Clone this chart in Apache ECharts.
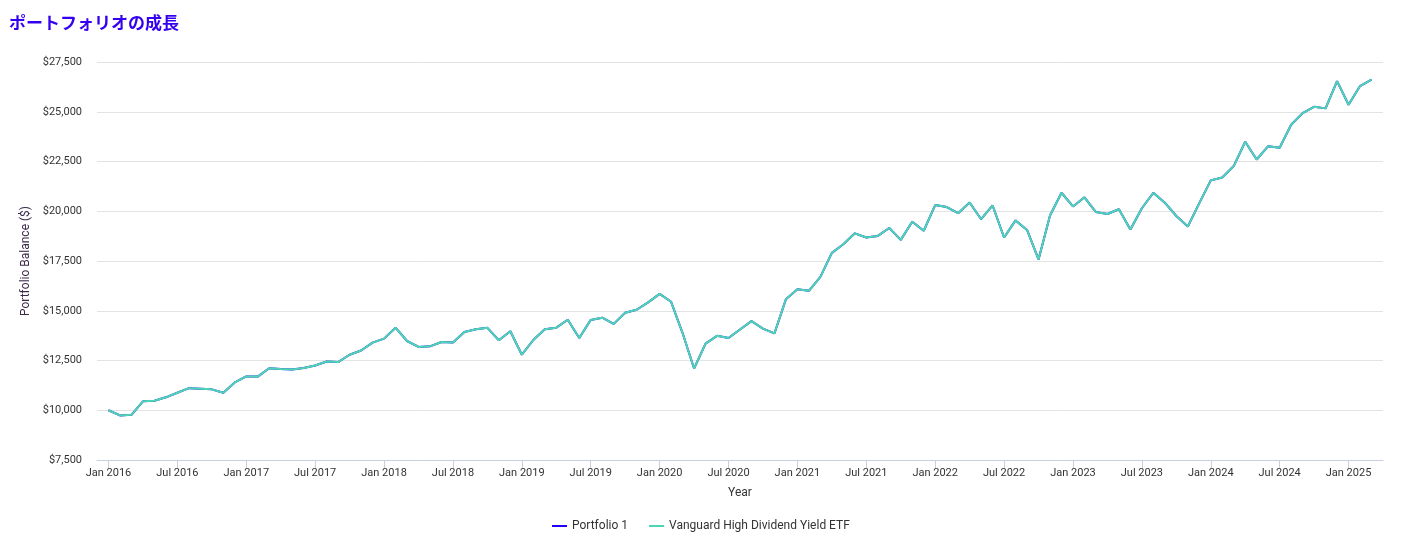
<!DOCTYPE html>
<html>
<head>
<meta charset="utf-8">
<script src="https://cdn.jsdelivr.net/npm/echarts@6/dist/echarts.min.js"></script>
<style>
html,body{margin:0;padding:0;background:#fff;}
#chart{width:1409px;height:536px;}
</style>
</head>
<body>
<div id="chart"></div>
<script>
const titleText = "ポートフォリオの成長";
const seriesNames = ["Portfolio 1", "Vanguard High Dividend Yield ETF"];
const monthNames = ["Jan","Feb","Mar","Apr","May","Jun","Jul","Aug","Sep","Oct","Nov","Dec"];
const startYear = 2016;
const monthCount = 111;
const categories = [];
for (let i = 0; i < monthCount; i++) {
  categories.push(monthNames[i % 12] + " " + (startYear + Math.floor(i / 12)));
}
const etfValues = [
  10000, 9740, 9770, 10450, 10480, 10650, 10880, 11110, 11080, 11050, 10880, 11400,
  11700, 11690, 12110, 12070, 12050, 12120, 12250, 12450, 12420, 12790, 13000, 13400,
  13600, 14150, 13480, 13180, 13210, 13430, 13400, 13930, 14070, 14140, 13520, 13970,
  12790, 13530, 14070, 14150, 14550, 13630, 14540, 14650, 14340, 14900, 15050, 15420,
  15850, 15450, 13880, 12100, 13350, 13740, 13630, 14060, 14480, 14100, 13860, 15580,
  16080, 16000, 16700, 17910, 18340, 18890, 18680, 18760, 19160, 18560, 19470, 19020,
  20310, 20210, 19900, 20440, 19600, 20290, 18680, 19540, 19060, 17580, 19790, 20930,
  20240, 20700, 19960, 19860, 20100, 19080, 20150, 20930, 20430, 19760, 19230, 20410,
  21550, 21700, 22270, 23490, 22600, 23270, 23190, 24350, 24930, 25250, 25170, 26540,
  25350, 26290, 26610
];
const portfolio1Values = [
  10000, 9740, 9770, 10450, 10480, 10650, 10880, 11110, 11080, 11050, 10880, 11400,
  11700, 11690, 12110, 12070, 12050, 12120, 12250, 12450, 12420, 12790, 13000, 13400,
  13600, 14150, 13480, 13180, 13210, 13430, 13400, 13930, 14070, 14140, 13520, 13970,
  12790, 13530, 14070, 14150, 14550, 13630, 14540, 14650, 14340, 14900, 15050, 15420,
  15850, 15450, 13880, 12100, 13350, 13740, 13630, 14060, 14480, 14100, 13860, 15580,
  16080, 16000, 16700, 17910, 18340, 18890, 18680, 18760, 19160, 18560, 19470, 19020,
  20310, 20210, 19900, 20440, 19600, 20290, 18680, 19540, 19060, 17580, 19790, 20930,
  20240, 20700, 19960, 19860, 20100, 19080, 20150, 20930, 20430, 19760, 19230, 20410,
  21550, 21700, 22270, 23490, 22600, 23270, 23190, 24350, 24930, 25250, 25170, 26540,
  25350, 26290, 26610
];
const yMin = 7500, yMax = 27500, yStep = 2500;

// one empty slot of padding on each side of the time range
const axisCats = [''].concat(categories, ['']);
const pad = arr => [null].concat(arr, [null]);
const showTick = idx => idx >= 1 && idx <= monthCount && (idx - 1) % 6 === 0;

const chart = echarts.init(document.getElementById('chart'));
const fmtMoney = v => '$' + v.toLocaleString('en-US');
chart.setOption({
  animation: false,
  backgroundColor: '#fff',
  title: {
    text: titleText, left: 4, top: 9,
    textStyle: { color: '#3300f0', fontSize: 17, fontWeight: 'bold', fontFamily: 'Noto Sans CJK JP' }
  },
  legend: {
    bottom: -1, left: 547, itemWidth: 15, itemHeight: 2, itemGap: 21,
    icon: 'rect',
    textStyle: { color: '#333', fontSize: 12, fontFamily: 'Roboto' },
    data: seriesNames
  },
  grid: { left: 97, right: 26, top: 62, bottom: 76 },
  xAxis: {
    type: 'category', data: axisCats, boundaryGap: false,
    name: 'Year', nameLocation: 'middle', nameGap: 27,
    nameTextStyle: { color: '#333', fontSize: 12, fontFamily: 'Roboto' },
    axisLine: { lineStyle: { color: '#c8d0e0' } },
    axisTick: { interval: showTick, length: 8, lineStyle: { color: '#c8d0e0' } },
    axisLabel: { interval: showTick, color: '#333', fontSize: 11, fontFamily: 'Roboto', margin: 8 },
    splitLine: { show: false }
  },
  yAxis: {
    type: 'value', min: yMin, max: yMax, interval: yStep,
    name: 'Portfolio Balance ($)', nameLocation: 'middle', nameGap: 55, nameRotate: 90,
    nameTextStyle: { color: '#3a2a4a', fontSize: 12, fontFamily: 'Roboto' },
    axisLine: { show: false }, axisTick: { show: false },
    axisLabel: { color: '#333', fontSize: 11, fontFamily: 'Roboto', margin: 15, formatter: fmtMoney },
    splitLine: { lineStyle: { color: '#e3e3e3' } }
  },
  series: [
    { name: seriesNames[0], type: 'line', data: pad(portfolio1Values), showSymbol: false,
      color: '#2200ff', lineStyle: { width: 2, color: '#2200ff' }, z: 2 },
    { name: seriesNames[1], type: 'line', data: pad(etfValues), showSymbol: false,
      color: '#4cd6b2', lineStyle: { width: 2, color: '#4cd6b2' }, z: 3 }
  ]
});
</script>
</body>
</html>
